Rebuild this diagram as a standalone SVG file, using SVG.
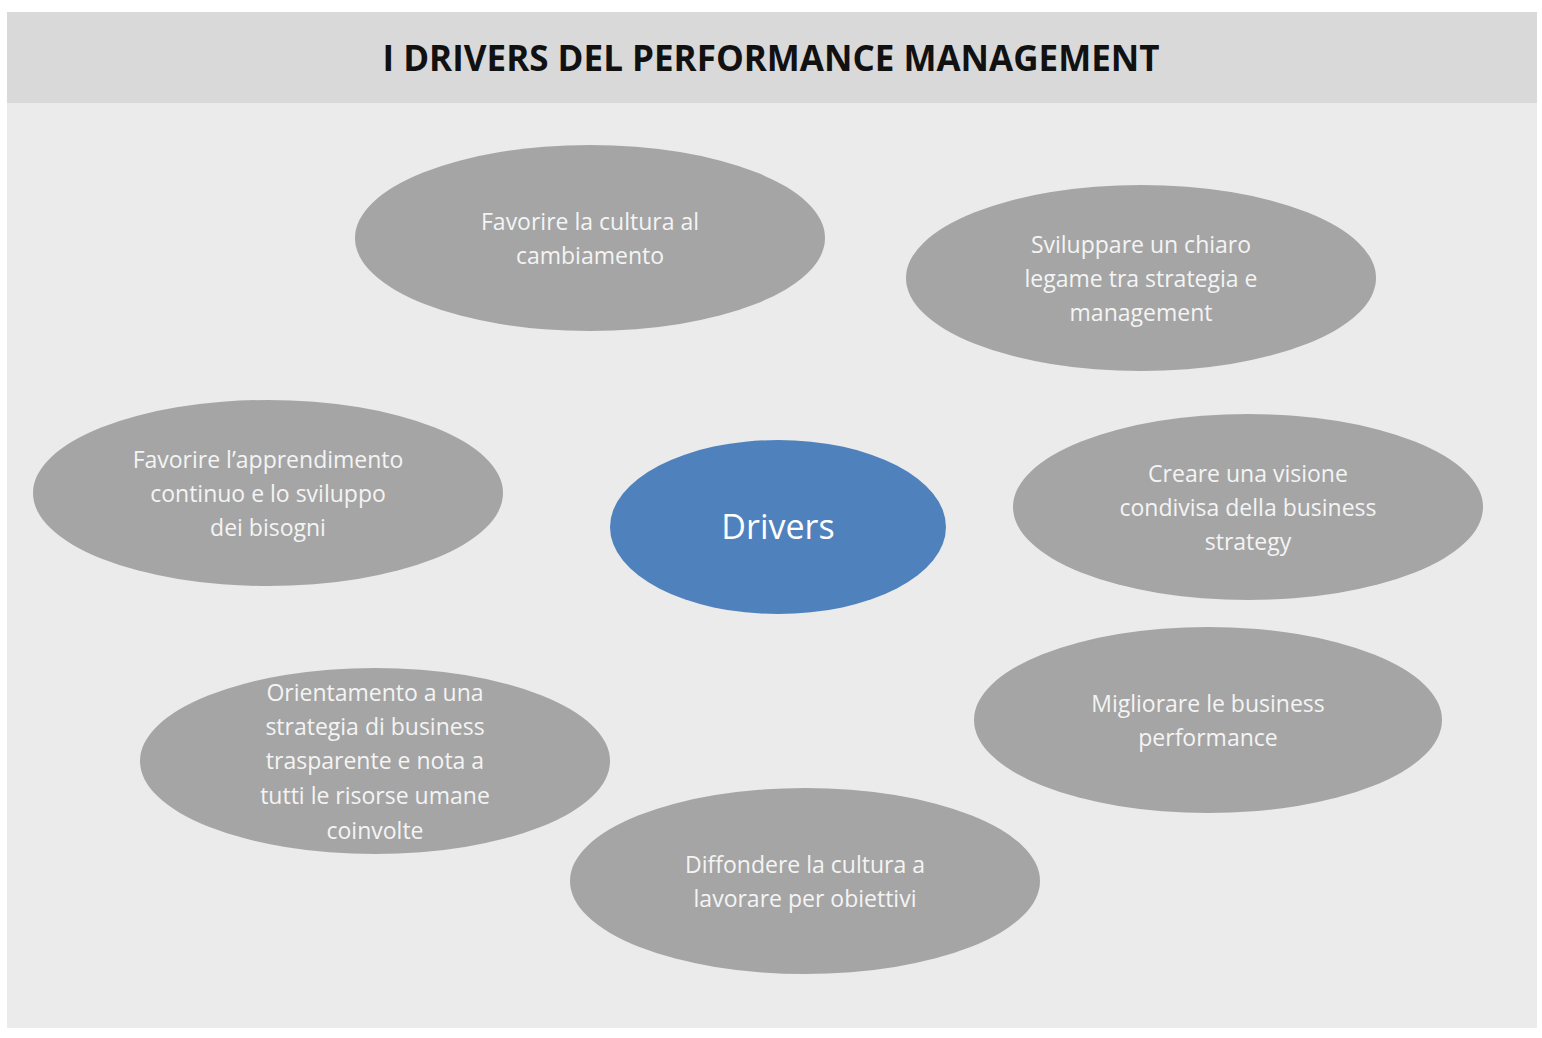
<svg xmlns="http://www.w3.org/2000/svg" width="1542" height="1038" viewBox="0 0 1542 1038">
<style>
.n{fill:#a5a5a5}
.t{font-family:"Open Sans","Liberation Sans",sans-serif;font-size:23px;fill:#f4f4f4;text-anchor:middle}
</style>
<rect width="1542" height="1038" fill="#fff"/>
<rect x="7" y="12" width="1530" height="1016" fill="#ebebeb"/>
<rect x="7" y="12" width="1530" height="91" fill="#d9d9d9"/>
<text x="771" y="71" font-family="Open Sans,Liberation Sans,sans-serif" font-size="35" font-weight="bold" text-anchor="middle" fill="#111">I DRIVERS DEL PERFORMANCE MANAGEMENT</text>
<g id="connectors"/>
<g id="n1"><ellipse class="n" cx="590" cy="238" rx="235" ry="93"/><text class="t" x="590" y="230">Favorire la cultura al</text><text class="t" x="590" y="264">cambiamento</text></g>
<g id="n2"><ellipse class="n" cx="1141" cy="278" rx="235" ry="93"/><text class="t" x="1141" y="253">Sviluppare un chiaro</text><text class="t" x="1141" y="287">legame tra strategia e</text><text class="t" x="1141" y="321">management</text></g>
<g id="n3"><ellipse class="n" cx="268" cy="493" rx="235" ry="93"/><text class="t" x="268" y="468">Favorire l’apprendimento</text><text class="t" x="268" y="502">continuo  e lo sviluppo</text><text class="t" x="268" y="536">dei bisogni</text></g>
<g id="drivers"><ellipse cx="778" cy="527" rx="168" ry="87" fill="#4f81bd"/><text x="778" y="539" font-family="Open Sans,Liberation Sans,sans-serif" font-size="34" fill="#fff" text-anchor="middle">Drivers</text></g>
<g id="n4"><ellipse class="n" cx="1248" cy="507" rx="235" ry="93"/><text class="t" x="1248" y="482">Creare una visione</text><text class="t" x="1248" y="516">condivisa della business</text><text class="t" x="1248" y="550">strategy</text></g>
<g id="n5"><ellipse class="n" cx="375" cy="761" rx="235" ry="93"/><text class="t" x="375" y="701">Orientamento a una</text><text class="t" x="375" y="735">strategia di business</text><text class="t" x="375" y="769">trasparente e  nota a</text><text class="t" x="375" y="804">tutti le risorse umane</text><text class="t" x="375" y="839">coinvolte</text></g>
<g id="n6"><ellipse class="n" cx="1208" cy="720" rx="234" ry="93"/><text class="t" x="1208" y="712">Migliorare le business</text><text class="t" x="1208" y="746">performance</text></g>
<g id="n7"><ellipse class="n" cx="805" cy="881" rx="235" ry="93"/><text class="t" x="805" y="873">Diffondere la cultura  a</text><text class="t" x="805" y="907">lavorare  per obiettivi</text></g>
</svg>
